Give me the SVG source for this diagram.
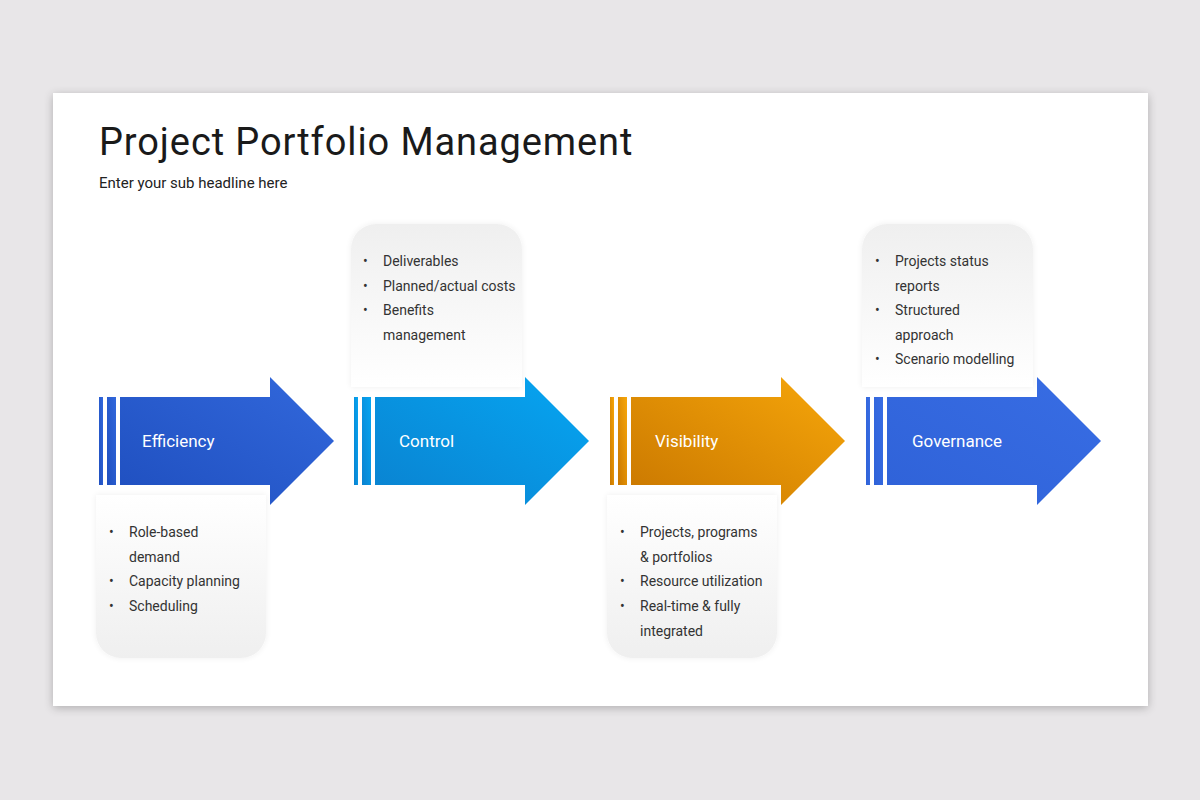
<svg xmlns="http://www.w3.org/2000/svg" width="1200" height="800" viewBox="0 0 1200 800">
<defs>
<filter id="sh" x="-10%" y="-10%" width="120%" height="120%"><feGaussianBlur in="SourceAlpha" stdDeviation="5"/><feOffset dy="2"/><feComponentTransfer><feFuncA type="linear" slope="0.25"/></feComponentTransfer><feMerge><feMergeNode/><feMergeNode in="SourceGraphic"/></feMerge></filter>
<filter id="sh2" x="-20%" y="-20%" width="140%" height="140%"><feGaussianBlur in="SourceAlpha" stdDeviation="3"/><feComponentTransfer><feFuncA type="linear" slope="0.07"/></feComponentTransfer><feMerge><feMergeNode/><feMergeNode in="SourceGraphic"/></feMerge></filter>
<linearGradient id="gTop" x1="0" y1="0" x2="0" y2="1"><stop offset="0" stop-color="#efefef"/><stop offset="1" stop-color="#ffffff"/></linearGradient>
<linearGradient id="gBot" x1="0" y1="0" x2="0" y2="1"><stop offset="0" stop-color="#ffffff"/><stop offset="1" stop-color="#efefef"/></linearGradient>
<linearGradient id="g1" x1="0" y1="1" x2="1" y2="0"><stop offset="0" stop-color="#1f4fbf"/><stop offset="1" stop-color="#3268dc"/></linearGradient>
<linearGradient id="g2" x1="0" y1="1" x2="1" y2="0"><stop offset="0" stop-color="#0a82d0"/><stop offset="1" stop-color="#06a6f2"/></linearGradient>
<linearGradient id="g3" x1="0" y1="1" x2="1" y2="0"><stop offset="0" stop-color="#c97700"/><stop offset="1" stop-color="#f7a70a"/></linearGradient>
<linearGradient id="g4" x1="0" y1="1" x2="1" y2="0"><stop offset="0" stop-color="#2f62d8"/><stop offset="1" stop-color="#386de4"/></linearGradient>
<g id="arrowShape"><rect x="0" y="20" width="4" height="88"/><rect x="8" y="20" width="9" height="88"/><path d="M21 20 H171 V0 L235 64 L171 128 V108 H21 Z"/></g>
</defs>
<style>
.t{font-family:Roboto,"Liberation Sans",sans-serif;fill:#333;font-size:14px}
.lbl{font-family:Roboto,"Liberation Sans",sans-serif;fill:#fff;font-size:17px}
</style>
<rect width="1200" height="800" fill="#e8e6e8"/>
<rect x="53" y="93" width="1095" height="613" fill="#fff" filter="url(#sh)"/>
<text x="99" y="155" font-family="Roboto,'Liberation Sans',sans-serif" font-size="38" letter-spacing="0.9" fill="#1a1a1a">Project Portfolio Management</text>
<text x="99" y="188" font-family="Roboto,'Liberation Sans',sans-serif" font-size="15" fill="#222">Enter your sub headline here</text>

<g id="box-control" filter="url(#sh2)"><path d="M351 387 V249 A25 25 0 0 1 376 224 H497 A25 25 0 0 1 522 249 V387 Z" fill="url(#gTop)"/></g>
<g id="box-governance" filter="url(#sh2)"><path d="M862 387 V249 A25 25 0 0 1 887 224 H1008 A25 25 0 0 1 1033 249 V387 Z" fill="url(#gTop)"/></g>
<g id="box-efficiency" filter="url(#sh2)"><path d="M96 495 H266 V633 A25 25 0 0 1 241 658 H121 A25 25 0 0 1 96 633 Z" fill="url(#gBot)"/></g>
<g id="box-visibility" filter="url(#sh2)"><path d="M607 495 H777 V633 A25 25 0 0 1 752 658 H632 A25 25 0 0 1 607 633 Z" fill="url(#gBot)"/></g>

<g id="efficiency"><use href="#arrowShape" x="99" y="377" fill="url(#g1)"/><text x="142" y="447" class="lbl">Efficiency</text></g>
<g id="control"><use href="#arrowShape" x="354" y="377" fill="url(#g2)"/><text x="399" y="447" class="lbl">Control</text></g>
<g id="visibility"><use href="#arrowShape" x="610" y="377" fill="url(#g3)"/><text x="655" y="447" class="lbl">Visibility</text></g>
<g id="governance"><use href="#arrowShape" x="866" y="377" fill="url(#g4)"/><text x="912" y="447" class="lbl">Governance</text></g>

<g id="connectors"></g>

<g class="t">
<text x="363" y="266">•</text><text x="383" y="266">Deliverables</text>
<text x="363" y="291">•</text><text x="383" y="291">Planned/actual costs</text>
<text x="363" y="315">•</text><text x="383" y="315">Benefits</text>
<text x="383" y="340">management</text>

<text x="875" y="266">•</text><text x="895" y="266">Projects status</text>
<text x="895" y="291">reports</text>
<text x="875" y="315">•</text><text x="895" y="315">Structured</text>
<text x="895" y="340">approach</text>
<text x="875" y="364">•</text><text x="895" y="364">Scenario modelling</text>

<text x="109" y="537">•</text><text x="129" y="537">Role-based</text>
<text x="129" y="562">demand</text>
<text x="109" y="586">•</text><text x="129" y="586">Capacity planning</text>
<text x="109" y="611">•</text><text x="129" y="611">Scheduling</text>

<text x="620" y="537">•</text><text x="640" y="537">Projects, programs</text>
<text x="640" y="562">&amp; portfolios</text>
<text x="620" y="586">•</text><text x="640" y="586">Resource utilization</text>
<text x="620" y="611">•</text><text x="640" y="611">Real-time &amp; fully</text>
<text x="640" y="636">integrated</text>
</g>
</svg>
